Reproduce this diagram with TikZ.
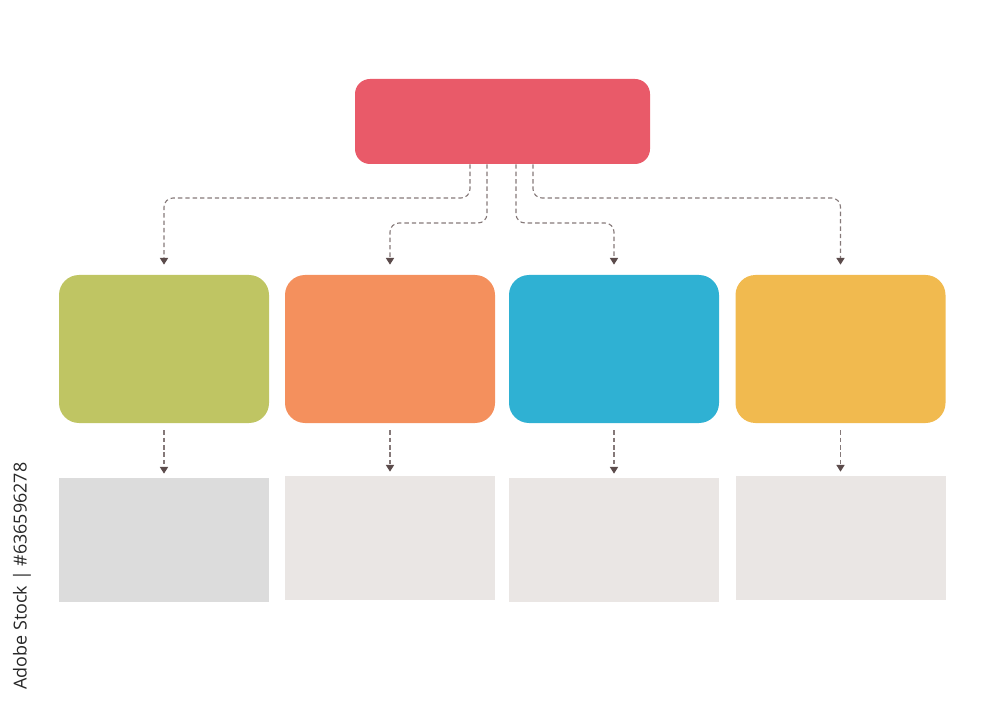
\documentclass[tikz,border=0pt]{standalone}
\usepackage{fontspec}
\setsansfont{Open Sans}
\usetikzlibrary{arrows.meta}
\definecolor{topred}{HTML}{E95A69}
\definecolor{boxgreen}{HTML}{BFC563}
\definecolor{boxorange}{HTML}{F4905D}
\definecolor{boxblue}{HTML}{2FB1D3}
\definecolor{boxyellow}{HTML}{F1BA4F}
\definecolor{noteA}{HTML}{DCDCDC}
\definecolor{noteB}{HTML}{EAE6E4}
\definecolor{linkgray}{HTML}{857979}
\definecolor{tipbrown}{HTML}{5B4B4B}
\tikzset{
    box/.style={rectangle, draw=none, minimum width=4.2cm, minimum height=2.96cm,
    	rounded corners=0.4cm, inner sep=0pt},
    note/.style={rectangle, draw=none, minimum width=4.2cm, minimum height=2.48cm,
    	inner sep=0pt},
    link/.style={draw=linkgray, line width=0.65pt, dash pattern=on 2.5pt off 1.7pt,
    	rounded corners=0.18cm,
    	-{Triangle[width=4.6pt,length=3.8pt,fill=tipbrown,color=tipbrown]}}
}

\begin{document}
\begin{tikzpicture}
	\useasboundingbox (0cm,0cm) rectangle (20cm,14.02cm);
	\node [box, fill=topred, minimum width=5.9cm, minimum height=1.7cm,
		rounded corners=0.3cm] (top) at (10.05cm,11.59cm) {};
	\node [box, fill=boxgreen] (a) at (3.28cm,7.04cm) {};
	\node [box, fill=boxorange] (b) at (7.8cm,7.04cm) {};
	\node [box, fill=boxblue] (c) at (12.28cm,7.04cm) {};
	\node [box, fill=boxyellow] (d) at (16.81cm,7.04cm) {};
	\node [note, fill=noteA] (1) at (3.28cm,3.22cm) {};
	\node [note, fill=noteB] (2) at (7.8cm,3.26cm) {};
	\node [note, fill=noteB] (3) at (12.28cm,3.22cm) {};
	\node [note, fill=noteB] (4) at (16.81cm,3.26cm) {};
	\draw [link, shorten >=2mm] (9.4cm,0 |- top.south) -- (9.4cm,10.06cm) -| (a);
	\draw [link, shorten >=2mm] (9.74cm,0 |- top.south) -- (9.74cm,9.56cm) -| (b);
	\draw [link, shorten >=2mm] (10.32cm,0 |- top.south) -- (10.32cm,9.56cm) -| (c);
	\draw [link, shorten >=2mm] (10.66cm,0 |- top.south) -- (10.66cm,10.06cm) -| (d);
	\draw [link, shorten <=1.4mm, shorten >=0.8mm] (a) -- (1);
	\draw [link, shorten <=1.4mm, shorten >=0.8mm] (b) -- (2);
	\draw [link, shorten <=1.4mm, shorten >=0.8mm] (c) -- (3);
	\draw [link, shorten <=1.4mm, shorten >=0.8mm] (d) -- (4);
	\node [rotate=90, text=black!85, font=\sffamily\fontsize{10.2}{12}\selectfont,
		inner sep=0pt] (id) at (0.44cm,2.5cm) {Adobe Stock | \#636596278};
\end{tikzpicture}
\end{document}
